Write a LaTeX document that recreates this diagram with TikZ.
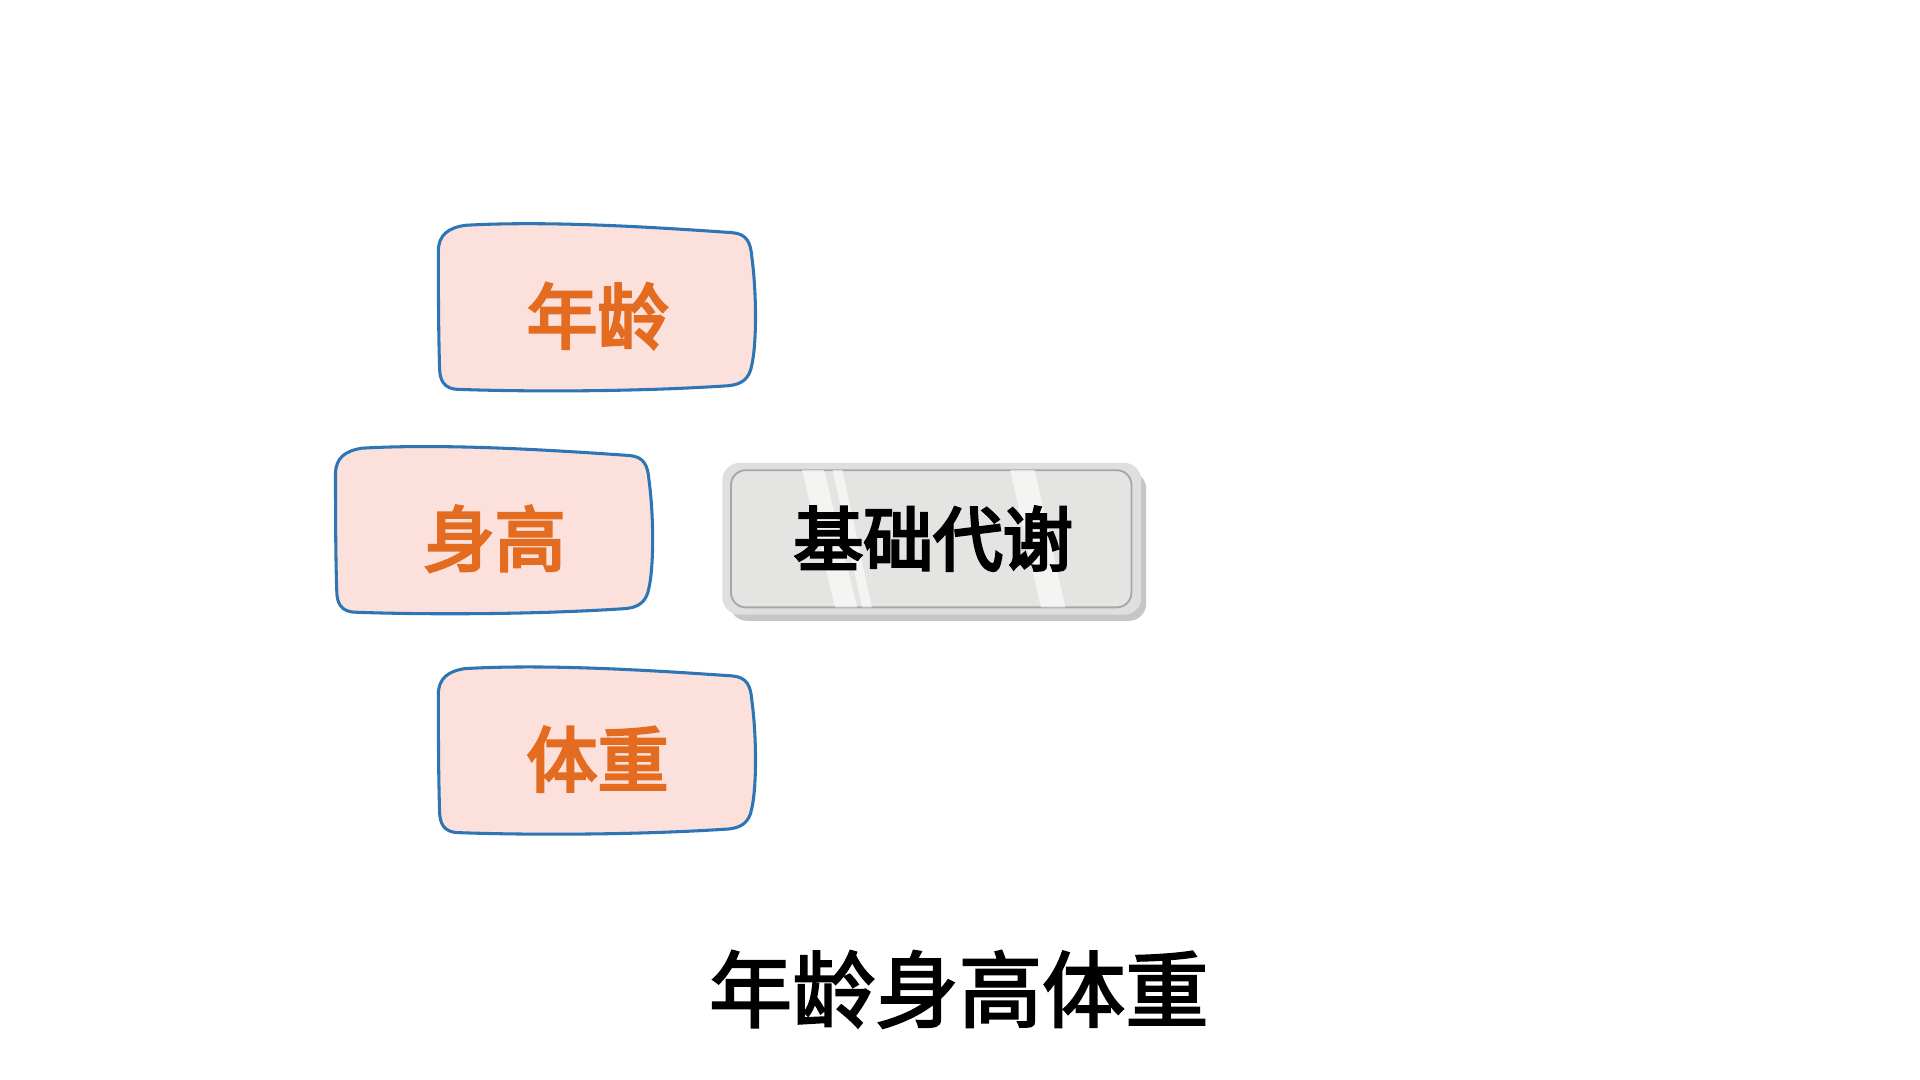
\documentclass[tikz,border=0pt]{standalone}
\usepackage{fontspec}
\newfontfamily\cjk{Noto Sans CJK SC}[FakeBold=2.5]
\newfontfamily\cjkx{Noto Sans CJK SC}[FakeBold=4]
\definecolor{pinkf}{HTML}{FCE0DB}
\definecolor{blueb}{HTML}{2E75B6}
\definecolor{orangt}{HTML}{E36C20}
\definecolor{grayf}{HTML}{E4E4E2}
\tikzset{lbl/.style={font=\cjkx\fontsize{58}{62}\selectfont, text=orangt},
 wob/.style={draw=blueb, line width=2.5pt, fill=pinkf}}
\begin{document}
\begin{tikzpicture}[x=1pt,y=-1pt]
\useasboundingbox (0,0) rectangle (1568,882);
\fill[white] (0,0) rectangle (1568,882);
\foreach \dx/\dy/\n/\t in {0/0/a/年龄, -84/182/b/身高, 0/362/c/体重}{
 \begin{scope}[shift={(\dx,\dy)}]
  \draw[wob] (380,184) .. controls (450,180) and (540,186) .. (598,190)
    .. controls (610,191) and (613,198) .. (614,210)
    .. controls (618,240) and (618,280) .. (614,298)
    .. controls (612,310) and (605,314) .. (595,315)
    .. controls (520,320) and (430,320) .. (375,318)
    .. controls (362,318) and (359,310) .. (359,300)
    .. controls (358,270) and (358,230) .. (358,205)
    .. controls (358,192) and (366,186) .. (380,184) -- cycle;
  \node[lbl] (\n) at (488,258) {\t};
 \end{scope}
}
\fill[gray!45, rounded corners=14pt] (596,385) rectangle (936,507);
\fill[gray!25, rounded corners=14pt] (590,378) rectangle (932,502);
\draw[gray!70, line width=1.5pt, fill=grayf, rounded corners=12pt] (597,384) rectangle (924,496);
\fill[white, opacity=0.6] (655,384) -- (673,384) -- (700,496) -- (682,496) -- cycle;
\fill[white, opacity=0.6] (680,384) -- (688,384) -- (712,496) -- (704,496) -- cycle;
\fill[white, opacity=0.6] (825,384) -- (845,384) -- (870,496) -- (850,496) -- cycle;
\node[font=\cjkx\fontsize{57}{60}\selectfont] (main) at (762,440) {基础代谢};
\node[font=\cjk\fontsize{68}{72}\selectfont, text=black] (sub) at (783,808) {年龄身高体重};
\end{tikzpicture}
\end{document}
